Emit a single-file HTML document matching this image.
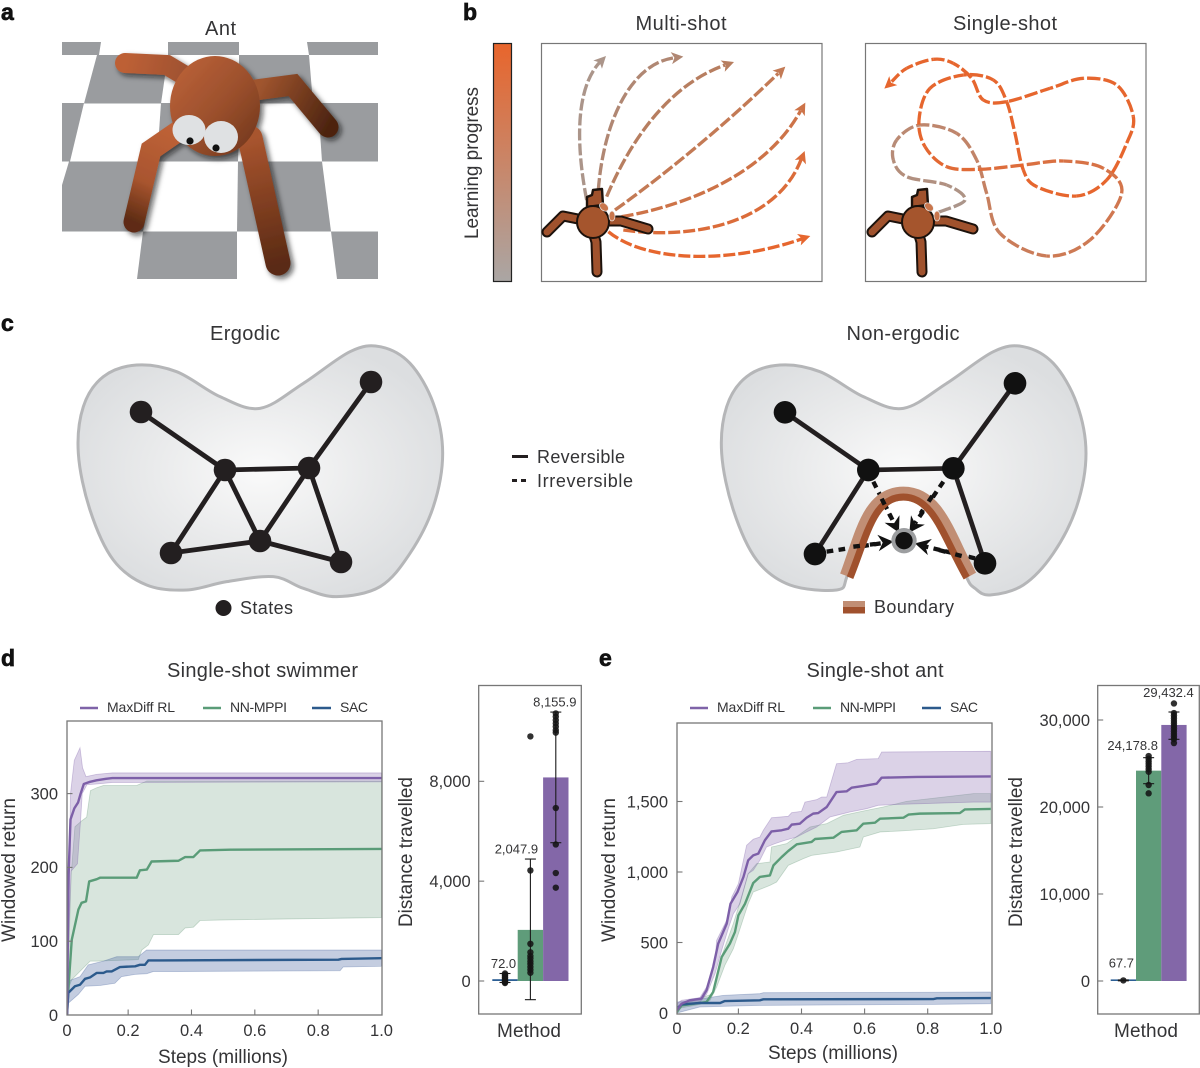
<!DOCTYPE html>
<html lang="en">
<head>
<meta charset="utf-8">
<title>MaxDiff RL figure</title>
<style>
html,body{margin:0;padding:0;background:#fff;}
svg{display:block;font-family:"Liberation Sans",sans-serif;}
text{fill:#343436;}
.pl{font-weight:700;font-size:23px;fill:#111;stroke:#111;stroke-width:.7px;}
.ti{font-size:20px;text-anchor:middle;}
.ax{font-size:19px;text-anchor:middle;}
.lg{font-size:18px;}
.sm{font-size:14px;}
.tk{font-size:16.5px;}
.vl{font-size:13px;text-anchor:middle;}
</style>
</head>
<body>
<svg id="fig" xmlns="http://www.w3.org/2000/svg" width="1200" height="1068" viewBox="0 0 1200 1068">
<defs>
<radialGradient id="blobFill" gradientUnits="objectBoundingBox" cx="50%" cy="50%" r="55%"><stop offset="0" stop-color="#fafafa"/><stop offset=".55" stop-color="#e9eaeb"/><stop offset="1" stop-color="#dcdee0"/></radialGradient>
<linearGradient id="cbar" x1="0" y1="0" x2="0" y2="1"><stop offset="0" stop-color="#e8652c"/><stop offset="1" stop-color="#aaa6a4"/></linearGradient>
<linearGradient id="antBody" x1="0" y1="0" x2="1" y2="1"><stop offset="0" stop-color="#c0643a"/><stop offset=".55" stop-color="#9a4f2c"/><stop offset="1" stop-color="#6b3319"/></linearGradient>
<linearGradient id="leg1" gradientUnits="userSpaceOnUse" x1="125" y1="64" x2="190" y2="80"><stop offset="0" stop-color="#bd6036"/><stop offset="1" stop-color="#9c5030"/></linearGradient>
<linearGradient id="leg2" gradientUnits="userSpaceOnUse" x1="258" y1="88" x2="328" y2="127"><stop offset="0" stop-color="#a0552f"/><stop offset="1" stop-color="#4d2410"/></linearGradient>
<linearGradient id="leg3" gradientUnits="userSpaceOnUse" x1="177" y1="128" x2="135" y2="222"><stop offset="0" stop-color="#bf6237"/><stop offset=".6" stop-color="#a9552f"/><stop offset="1" stop-color="#5e2c14"/></linearGradient>
<linearGradient id="leg4" gradientUnits="userSpaceOnUse" x1="247" y1="140" x2="277" y2="265"><stop offset="0" stop-color="#a8542e"/><stop offset="1" stop-color="#5a2a14"/></linearGradient>
<filter id="sh" x="-30%" y="-30%" width="170%" height="170%"><feDropShadow dx="3" dy="3" stdDeviation="2.6" flood-color="#111" flood-opacity=".65"/></filter>
<clipPath id="clipD"><rect x="67" y="721" width="315" height="294"/></clipPath>
<clipPath id="clipE"><rect x="677" y="723" width="315" height="291"/></clipPath>
<g id="miniAnt">
<path d="M-15,-3 L-30,-6 L-46,10 M17,-1 L28,-1 L55,7 M0,10 L3,20 L4,50" fill="none" stroke="#1c120c" stroke-width="11" stroke-linecap="round" stroke-linejoin="round"/>
<path d="M-15,-3 L-30,-6 L-46,10 M17,-1 L28,-1 L55,7 M0,10 L3,20 L4,50" fill="none" stroke="#a0522d" stroke-width="7" stroke-linecap="round" stroke-linejoin="round"/>
<path d="M-6,-15 L-6,-25 L-1,-27 L0,-32 L9,-33 L10,-17 Z" fill="#a0522d" stroke="#1c120c" stroke-width="2.4" stroke-linejoin="round"/>
<circle cx="0" cy="0" r="16" fill="#a5552d" stroke="#1c120c" stroke-width="2"/>
<ellipse cx="11" cy="-15" rx="5" ry="3.5" fill="#c9764d" stroke="#eee" stroke-width=".7" transform="rotate(40 11 -15)"/>
<ellipse cx="19" cy="-6" rx="3" ry="5" fill="#c9764d" stroke="#eee" stroke-width=".7"/>
</g>
</defs>

<!-- panel letters -->
<text class="pl" x="1" y="20">a</text>
<text class="pl" x="463" y="20">b</text>
<text class="pl" x="1" y="331">c</text>
<text class="pl" x="1" y="666">d</text>
<text class="pl" x="599" y="666">e</text>

<!-- panel a -->
<text class="ti" x="220.5" y="35" textLength="31">Ant</text>
<g fill="#9a9c9f">
<polygon points="62,42 101,42 99,55 62,55"/><polygon points="168,42 239,42 239,55 168,55"/><polygon points="307,42 378,42 378,55 309,55"/>
<polygon points="97,55 168,55 161,103.5 84,103.5"/><polygon points="239,55 309,55 313,103.5 239,103.5"/>
<polygon points="62,103 84,103 70,161.5 62,161.5"/><polygon points="161,103 240,103 238,161.5 157,161.5"/><polygon points="318,103 378,103 378,161.5 322,161.5"/>
<polygon points="69,161.5 157,161.5 143,231.5 62,231.5 62,185"/><polygon points="238,161.5 322,161.5 331,231.5 237,231.5"/>
<polygon points="143,231.5 237,231.5 237,279 137,279"/><polygon points="331,231.5 378,231.5 378,279 337,279"/>
</g>
<g fill="none" stroke-linecap="round">
<g filter="url(#sh)">
<path d="M125,63 L167,65 L192,80" stroke="url(#leg1)" stroke-width="20" stroke-linejoin="miter"/>
<path d="M255,90 L293,85 L328,127" stroke="url(#leg2)" stroke-width="21" stroke-linejoin="miter"/>
<path d="M180,130 L151,150 L134,222" stroke="url(#leg3)" stroke-width="21" stroke-linejoin="miter"/>
<path d="M250,138 L278,263" stroke="url(#leg4)" stroke-width="25"/>
<ellipse cx="215" cy="106" rx="45" ry="50" fill="url(#antBody)" stroke="none"/>
</g>
<ellipse cx="189" cy="130" rx="16.5" ry="15" fill="#dfe1e3" stroke="none"/>
<ellipse cx="221" cy="137" rx="17" ry="16" fill="#dfe1e3" stroke="none"/>
<circle cx="190" cy="141" r="3.6" fill="#111" stroke="none"/>
<circle cx="216" cy="148" r="3.6" fill="#111" stroke="none"/>
</g>

<!-- panel b -->
<rect x="493.5" y="43.5" width="18" height="238" fill="url(#cbar)" stroke="#222" stroke-width="1.2"/>
<text class="ax" transform="translate(478 163) rotate(-90)" textLength="152">Learning progress</text>
<text class="ti" x="681" y="30" textLength="91">Multi-shot</text>
<text class="ti" x="1005" y="30" textLength="104">Single-shot</text>
<rect x="541.5" y="43.5" width="280.5" height="238" fill="#fff" stroke="#777" stroke-width="1.2"/>
<rect x="865.5" y="43.5" width="280.5" height="238" fill="#fff" stroke="#777" stroke-width="1.2"/>
<g transform="translate(460 0) scale(.33333)" fill="none" stroke-width="10" stroke-dasharray="36 9">
<path stroke="#ab958a" d="M380,600 C345,420 350,260 420,186"/>
<path stroke="#b08773" d="M415,570 C430,370 510,190 645,173"/>
<path stroke="#b77e60" d="M440,590 C520,400 640,250 795,195"/>
<path stroke="#c37a55" d="M465,630 C620,520 800,370 955,220"/>
<path stroke="#cd7348" d="M485,650 C720,610 930,500 1022,332"/>
<path stroke="#db6c3a" d="M490,690 C700,720 950,670 1024,477"/>
<path stroke="#e6662e" d="M445,695 C560,790 820,790 1027,716"/>
<g stroke="none">
<polygon fill="#ab958a" points="0,0 -36,-18 -27,0 -36,18" transform="translate(438 168) rotate(-46)"/>
<polygon fill="#b08773" points="0,0 -36,-18 -27,0 -36,18" transform="translate(670 170) rotate(-7)"/>
<polygon fill="#b77e60" points="0,0 -36,-18 -27,0 -36,18" transform="translate(822 186) rotate(-20)"/>
<polygon fill="#c37a55" points="0,0 -36,-18 -27,0 -36,18" transform="translate(976 200) rotate(-44)"/>
<polygon fill="#cd7348" points="0,0 -36,-18 -27,0 -36,18" transform="translate(1036 308) rotate(-61)"/>
<polygon fill="#db6c3a" points="0,0 -36,-18 -27,0 -36,18" transform="translate(1034 453) rotate(-69)"/>
<polygon fill="#e6662e" points="0,0 -36,-18 -27,0 -36,18" transform="translate(1051 708) rotate(-18)"/>
</g>
</g>
<use href="#miniAnt" x="593" y="222"/>
<g id="singleShot" transform="translate(850 30) scale(.33333)" fill="none" stroke-width="10"></g>
<use href="#miniAnt" x="918" y="222"/>

<!-- panel c -->
<text class="ti" x="245" y="340" textLength="70">Ergodic</text>
<text class="ti" x="903" y="340" textLength="113">Non-ergodic</text>
<path id="blobA" fill="url(#blobFill)" stroke="#b5b6b8" stroke-width="3"/>
<path id="blobB" fill="url(#blobFill)" stroke="#b5b6b8" stroke-width="3"/>
<g stroke="#231f20" stroke-width="4.8" fill="#231f20">
<line x1="141" y1="412" x2="225" y2="470"/><line x1="371" y1="382" x2="309" y2="468"/><line x1="225" y1="470" x2="309" y2="468"/>
<line x1="225" y1="470" x2="171" y2="553"/><line x1="225" y1="470" x2="260" y2="541"/><line x1="309" y1="468" x2="260" y2="541"/>
<line x1="309" y1="468" x2="341" y2="562"/><line x1="171" y1="553" x2="260" y2="541"/><line x1="260" y1="541" x2="341" y2="562"/>
<g stroke="none">
<circle cx="141" cy="412" r="11.3"/><circle cx="371" cy="382" r="11.3"/><circle cx="225" cy="470" r="11.3"/><circle cx="309" cy="468" r="11.3"/><circle cx="171" cy="553" r="11.3"/><circle cx="260" cy="541" r="11.3"/><circle cx="341" cy="562" r="11.3"/>
</g>
</g>
<g transform="translate(700 340) scale(.33333)">
<g stroke="#231f20" stroke-width="14" fill="none">
<line x1="255" y1="217" x2="505" y2="390"/><line x1="945" y1="130" x2="760" y2="385"/><line x1="505" y1="390" x2="760" y2="385"/>
<line x1="505" y1="390" x2="345" y2="642"/><line x1="760" y1="385" x2="855" y2="670"/>
</g>
<g stroke="#111" stroke-width="13" stroke-dasharray="20 16" fill="none">
<line x1="520" y1="425" x2="585" y2="555"/><line x1="730" y1="425" x2="645" y2="550"/><line x1="380" y1="635" x2="555" y2="608"/><line x1="825" y1="655" x2="670" y2="618"/>
</g>
<path d="M440,708 C485,590 505,461 610,461 C715,461 745,590 810,708" fill="none" stroke="#c18e74" stroke-width="42"/>
<path d="M450,713 C500,590 520,471 610,471 C700,471 730,590 800,713" fill="none" stroke="#a0512d" stroke-width="21"/>
<g stroke="#111" stroke-width="13" stroke-dasharray="20 30" fill="none">
<line x1="545" y1="476" x2="572" y2="530"/><line x1="697" y1="468" x2="662" y2="520"/><line x1="460" y1="620" x2="525" y2="612"/><line x1="785" y1="648" x2="705" y2="627"/>
</g>
<g fill="#111">
<polygon points="0,0 -46,-25 -32,0 -46,25" transform="translate(597 578) rotate(63)"/>
<polygon points="0,0 -46,-25 -32,0 -46,25" transform="translate(628 578) rotate(124)"/>
<polygon points="0,0 -46,-25 -32,0 -46,25" transform="translate(580 605) rotate(-5)"/>
<polygon points="0,0 -46,-25 -32,0 -46,25" transform="translate(645 610) rotate(194)"/>
<circle cx="255" cy="217" r="34"/><circle cx="945" cy="130" r="34"/><circle cx="505" cy="390" r="34"/><circle cx="760" cy="385" r="34"/><circle cx="345" cy="642" r="34"/><circle cx="855" cy="670" r="34"/>
<circle cx="612" cy="602" r="38" fill="#9c9ea0"/>
<circle cx="612" cy="602" r="26"/>
</g>
</g>
<circle cx="223.5" cy="608" r="8" fill="#231f20"/>
<text class="lg" x="240" y="614" textLength="53">States</text>
<rect x="843" y="601" width="22" height="6" fill="#c18e74"/>
<rect x="843" y="607" width="22" height="6.5" fill="#a0512d"/>
<text class="lg" x="874" y="613" textLength="80">Boundary</text>
<line x1="512" y1="456.5" x2="528" y2="456.5" stroke="#231f20" stroke-width="3"/>
<text class="lg" x="537" y="463" textLength="88">Reversible</text>
<line x1="512" y1="480.5" x2="528" y2="480.5" stroke="#231f20" stroke-width="3" stroke-dasharray="5 4"/>
<text class="lg" x="537" y="487" textLength="96">Irreversible</text>

<!-- panel d/e static text -->
<text class="ti" x="262.5" y="677" textLength="191">Single-shot swimmer</text>
<text class="ti" x="875" y="677" textLength="137">Single-shot ant</text>
<text class="ax" transform="translate(15 870) rotate(-90)" textLength="144">Windowed return</text>
<text class="ax" transform="translate(615 870) rotate(-90)" textLength="144">Windowed return</text>
<text class="ax" x="223" y="1063" textLength="130">Steps (millions)</text>
<text class="ax" x="833" y="1059" textLength="130">Steps (millions)</text>
<text class="ax" transform="translate(412 852) rotate(-90)" textLength="150">Distance travelled</text>
<text class="ax" transform="translate(1022 852) rotate(-90)" textLength="150">Distance travelled</text>
<text class="ax" x="529" y="1037" textLength="64">Method</text>
<text class="ax" x="1146" y="1037" textLength="64">Method</text>

<g>
<line x1="80" y1="708" x2="98" y2="708" stroke="#7f63a8" stroke-width="2.5"/>
<text class="sm" x="107" y="712" textLength="68">MaxDiff RL</text>
<line x1="203" y1="708" x2="221" y2="708" stroke="#5a9c78" stroke-width="2.5"/>
<text class="sm" x="230" y="712" textLength="57">NN-MPPI</text>
<line x1="312" y1="708" x2="331" y2="708" stroke="#2c5a8c" stroke-width="2.5"/>
<text class="sm" x="340" y="712" textLength="28">SAC</text>
</g>
<g>
<line x1="690" y1="708" x2="708" y2="708" stroke="#7f63a8" stroke-width="2.5"/>
<text class="sm" x="717" y="712" textLength="68">MaxDiff RL</text>
<line x1="813" y1="708" x2="831" y2="708" stroke="#5a9c78" stroke-width="2.5"/>
<text class="sm" x="840" y="712" textLength="56">NN-MPPI</text>
<line x1="922" y1="708" x2="941" y2="708" stroke="#2c5a8c" stroke-width="2.5"/>
<text class="sm" x="950" y="712" textLength="28">SAC</text>
</g>

<g id="chartD"></g>
<g id="chartE"></g>
<g id="barD"></g>
<g id="barE"></g>
</svg>

<script>
// ---- Line chart data: steps (millions) and windowed return ----
const xTickValues = [0, 0.2, 0.4, 0.6, 0.8, 1.0];
const xTickLabels = ['0', '0.2', '0.4', '0.6', '0.8', '1.0'];
const swimmerYTicks = [0, 100, 200, 300];
const swimmerYLabels = ['0', '100', '200', '300'];
const antYTicks = [0, 500, 1000, 1500];
const antYLabels = ['0', '500', '1,000', '1,500'];

const swimMaxDiffMeanX = [.007,.012,.018,.03,.042,.05,.06,.08,.1,.13,.15,1];
const swimMaxDiffMeanY = [0,190,265,280,288,300,313,316,318,320,321,321];
const swimMaxDiffUpperX = [.007,.012,.018,.03,.048,.056,.067,.1,.15,1];
const swimMaxDiffUpperY = [0,120,300,345,362,335,323,326,328,328];
const swimMaxDiffLowerX = [.007,.012,.02,.04,.05,.055,.07,.1,.15,1];
const swimMaxDiffLowerY = [0,100,195,205,265,300,312,313,315,316];

const swimNNMeanX = [.007,.011,.022,.043,.053,.067,.077,.101,.111,.227,.237,.259,.274,.359,.38,.406,.427,.522,1];
const swimNNMeanY = [0,34,102,143,152,154,181,184,186,186,196,197,208,209,214,214,223,224,225];
const swimNNUpperX = [.007,.011,.02,.032,.053,.069,.081,.101,.122,.227,.259,1];
const swimNNUpperY = [0,60,190,255,263,268,304,308,311,311,317,317];
const swimNNLowerX = [.007,.015,.022,.08,.101,.232,.243,.264,.28,.359,.38,.406,.427,.522,1];
const swimNNLowerY = [0,40,48,73,73,75,88,95,109,109,118,119,128,129,132];

const swimSacMeanX = [.007,.011,.032,.048,.064,.08,.101,.122,.132,.148,.174,.222,.237,.253,.264,.3,.864,.874,1];
const swimSacMeanY = [0,30,39,41,49,51,57,57,59,59,65,66,68,68,74,74,75,76,77];
const swimSacUpperX = [.007,.011,.048,.074,.122,.164,.232,.258,1];
const swimSacUpperY = [0,46,52,68,73,79,79,88,88];
const swimSacLowerX = [.007,.011,.043,.064,.111,.158,.179,.222,.259,.28,.364,.869,.879,1];
const swimSacLowerY = [0,16,28,39,40,43,52,55,56,59,59,60,65,66];

const antMaxDiffMeanX = [.005,.02,.046,.083,.099,.12,.136,.163,.175,.197,.216,.231,.247,.263,.284,.305,.337,.358,.369,.395,.416,.437,.453,.48,.511,.543,.559,.596,.638,.654,.765,1];
const antMaxDiffMeanY = [19,66,90,102,161,326,492,634,775,858,965,1083,1118,1130,1225,1288,1296,1307,1336,1343,1385,1414,1418,1461,1567,1572,1598,1610,1626,1669,1674,1678];
const antMaxDiffUpperX = [.005,.02,.078,.099,.126,.131,.168,.179,.2,.226,.247,.268,.279,.305,.358,.369,.4,.411,.448,.464,.48,.511,.548,.575,.643,.654,1];
const antMaxDiffUpperY = [66,90,109,184,374,515,681,823,917,1189,1232,1248,1296,1385,1395,1421,1430,1496,1513,1532,1532,1768,1775,1799,1804,1851,1856];
const antMaxDiffLowerX = [.005,.02,.078,.099,.126,.147,.168,.184,.205,.231,.247,.268,.289,.316,.348,.385,.416,.448,.49,.511,.554,.606,.643,.712,.945,1];
const antMaxDiffLowerY = [10,54,78,132,279,444,598,704,775,988,1012,1083,1177,1201,1225,1248,1284,1319,1390,1402,1426,1449,1473,1480,1496,1496];

const antNNMeanX = [.005,.02,.078,.099,.12,.147,.173,.189,.2,.221,.247,.268,.3,.311,.337,.358,.385,.432,.443,.501,.527,.575,.596,.633,.649,.723,.739,.775,.902,.918,1];
const antNNMeanY = [7,54,71,78,149,397,492,574,693,775,922,965,976,1047,1106,1149,1196,1213,1234,1243,1284,1296,1343,1350,1378,1385,1407,1414,1418,1444,1447];
const antNNUpperX = [.005,.046,.12,.142,.184,.205,.231,.258,.3,.305,.353,.427,.48,.533,.606,.659,.733,.945,1];
const antNNUpperY = [45,78,137,374,634,787,988,1059,1071,1177,1201,1319,1343,1402,1437,1461,1501,1556,1556];
const antNNLowerX = [.005,.078,.11,.131,.157,.184,.2,.231,.247,.3,.321,.358,.406,.432,.511,.585,.596,.649,.712,.818,.913,1];
const antNNLowerY = [30,61,90,184,338,456,563,775,858,905,929,1047,1095,1118,1142,1177,1248,1284,1291,1307,1338,1343];

const antSacMeanX = [.005,.02,.078,.142,.157,.268,.279,.818,.829,1];
const antSacMeanY = [31,61,71,71,85,90,97,99,104,106];
const antSacUpperX = [.005,.036,.152,.268,.279,.818,1];
const antSacUpperY = [78,85,125,137,144,147,149];
const antSacLowerX = [.005,.078,.268,.818,1];
const antSacLowerY = [0,43,54,61,66];

// ---- Bar chart data: distance travelled ----
const barMethods = ['SAC', 'NN-MPPI', 'MaxDiff RL'];
const swimBarValues = [72.0, 2047.9, 8155.9];
const swimBarLabels = ['72.0', '2,047.9', '8,155.9'];
const swimErrHigh = [300, 4886, 10774];
const swimErrLow = [-60, -748, 5540];
const swimDotsSac = [300, 250, 200, 150, 100, 50, 0, -30, -60, -80];
const swimDotsNN = [9800, 4430, 1490, 1150, 1000, 900, 780, 680, 560, 450, 330];
const swimDotsMaxDiff = [10720, 10590, 10450, 10320, 10190, 10050, 9950, 6930, 5470, 4325, 3740];
const swimBarTicks = [0, 4000, 8000];
const swimBarTickLabels = ['0', '4,000', '8,000'];

const antBarValues = [67.7, 24178.8, 29432.4];
const antBarLabels = ['67.7', '24,178.8', '29,432.4'];
const antErrHigh = [120, 25670, 30920];
const antErrLow = [20, 22680, 27780];
const antLabelAnchor = [900, 25900, 32000];
const antDotsSac = [67.7];
const antDotsNN = [25860, 25550, 25250, 24950, 24650, 24350, 24050, 22530, 21570];
const antDotsMaxDiff = [31900, 30800, 30500, 30200, 29900, 29600, 29300, 29000, 28700, 28400, 28100, 27800, 27350];
const antBarTicks = [0, 10000, 20000, 30000];
const antBarTickLabels = ['0', '10,000', '20,000', '30,000'];

// ---- Illustration geometry ----
const blobAPts = [[600,205],[730,130],[870,35],[960,20],[1050,70],[1120,190],[1148,340],[1120,500],[1050,640],[960,740],[830,770],[730,745],[640,710],[500,725],[380,750],[260,735],[160,660],[90,510],[55,340],[70,200],[130,110],[230,75],[350,95],[480,170]];
const blobBPts = [[610,205],[740,130],[880,35],[970,20],[1060,70],[1130,190],[1158,340],[1130,500],[1060,640],[970,735],[870,765],[825,745],[800,712],[755,590],[690,490],[610,460],[530,490],[470,590],[440,712],[410,750],[270,735],[170,660],[100,510],[65,340],[80,200],[140,110],[240,75],[360,95],[490,170]];
const singleShotPts = [[265,547],[345,510],[290,465],[170,440],[130,390],[140,330],[210,285],[320,310],[380,390],[410,490],[450,610],[590,678],[720,630],[815,490],[760,415],[640,393],[520,405],[390,418],[290,410],[225,350],[207,270],[240,175],[340,135],[430,150],[470,215],[495,310],[520,420],[560,470],[680,498],[770,450],[830,340],[850,260],[800,165],[700,145],[600,175],[470,215],[400,210],[365,145],[310,100],[250,88],[170,115],[125,155]];

const NS = 'http://www.w3.org/2000/svg';
function make(tag, parent, props) {
  const el = document.createElementNS(NS, tag);
  for (const k in props) el.setAttribute(k, props[k]);
  parent.appendChild(el);
  return el;
}
function segment(p0, p1, p2, p3) {
  const c1x = p1[0] + (p2[0] - p0[0]) / 6, c1y = p1[1] + (p2[1] - p0[1]) / 6;
  const c2x = p2[0] - (p3[0] - p1[0]) / 6, c2y = p2[1] - (p3[1] - p1[1]) / 6;
  return 'C' + c1x + ',' + c1y + ' ' + c2x + ',' + c2y + ' ' + p2[0] + ',' + p2[1];
}
function closedBlob(pts, ox, oy) {
  const q = pts.map(p => [p[0] / 3 + ox, p[1] / 3 + oy]);
  const n = q.length;
  let d = 'M' + q[0][0] + ',' + q[0][1];
  for (let i = 0; i < n; i++) d += segment(q[(i - 1 + n) % n], q[i], q[(i + 1) % n], q[(i + 2) % n]);
  return d + 'Z';
}
document.getElementById('blobA').setAttribute('d', closedBlob(blobAPts, 60, 340));
document.getElementById('blobB').setAttribute('d', closedBlob(blobBPts, 700, 340));

// single-shot trajectory, colour progresses from grey-brown to orange; dash phase continues across segments
(function () {
  const g = document.getElementById('singleShot');
  const n = singleShotPts.length;
  const from = [171, 149, 138], to = [230, 102, 46];
  let travelled = 0;
  for (let i = 0; i < n - 1; i++) {
    const t = Math.min(1, i / (n * 0.45));
    const c = from.map((v, k) => Math.round(v + (to[k] - v) * t));
    const p0 = singleShotPts[Math.max(0, i - 1)], p1 = singleShotPts[i], p2 = singleShotPts[i + 1], p3 = singleShotPts[Math.min(n - 1, i + 2)];
    const seg = make('path', g, { d: 'M' + p1[0] + ',' + p1[1] + segment(p0, p1, p2, p3), stroke: 'rgb(' + c.join(',') + ')', 'stroke-dasharray': '40 9', 'stroke-dashoffset': travelled });
    
    
    travelled += seg.getTotalLength();
  }
  const head = make('polygon', g, { points: '0,0 -36,-18 -27,0 -36,18', fill: '#e6662e', stroke: 'none', transform: 'translate(103 176) rotate(138)' });
  
  
})();

// ---- Line charts ----
function drawFrame(g, box) {
  const frame = make('rect', g, { x: box.x, y: box.y, width: box.w, height: box.h, fill: 'none', stroke: '#777', 'stroke-width': 1.3 });
  
  
}
function drawYTicks(g, box, ticks, labels, yScale, right) {
  ticks.forEach((v, i) => {
    const y = yScale(v);
    if (i > 0 || v !== 0 || box.tickZero) {
      const t = make('line', g, { x1: box.x, x2: box.x + 5.5, y1: y, y2: y, stroke: '#777', 'stroke-width': 1.1 });
      
      
    }
    const lab = make('text', g, { x: right, y: y + 5.8, 'text-anchor': 'end', class: 'tk' });
    lab.textContent = labels[i];
    
    
  });
}
function drawLineChart(g, box, xScale, yScale, cfg) {
  const plot = make('g', g, { 'clip-path': 'url(#' + cfg.clip + ')' });
  
  
  cfg.series.forEach(s => {
    let d = s.upX.map((x, i) => (i ? 'L' : 'M') + xScale(x) + ',' + yScale(s.upY[i])).join('');
    for (let i = s.loX.length - 1; i >= 0; i--) d += 'L' + xScale(s.loX[i]) + ',' + yScale(s.loY[i]);
    const band = make('path', plot, { d: d + 'Z', fill: s.band, 'fill-opacity': s.bandOp, stroke: s.band, 'stroke-opacity': .35, 'stroke-width': .8 });
    
    
  });
  cfg.series.forEach(s => {
    const d = s.mX.map((x, i) => (i ? 'L' : 'M') + xScale(x) + ',' + yScale(s.mY[i])).join('');
    const line = make('path', plot, { d: d, fill: 'none', stroke: s.color, 'stroke-width': 2.4, 'stroke-linejoin': 'round' });
    
    
  });
  drawFrame(g, box);
  xTickValues.forEach((v, i) => {
    const x = xScale(v);
    if (v > 0 && v < 1) {
      const t = make('line', g, { x1: x, x2: x, y1: box.y + box.h, y2: box.y + box.h - 5.5, stroke: '#777', 'stroke-width': 1.1 });
      
      
    }
    const lab = make('text', g, { x: Math.max(x, box.x), y: cfg.xLabelY, 'text-anchor': 'middle', class: 'tk' });
    lab.textContent = xTickLabels[i];
    
    
  });
  drawYTicks(g, box, cfg.yTicks, cfg.yLabels, yScale, cfg.yRight);
}
const purple = '#7d5fa8', green = '#5a9c78', blue = '#2c5a8c';

const dX = v => 64.8 + 316.7 * v;
const dY = v => 1015 - 0.738 * v;
drawLineChart(document.getElementById('chartD'), { x: 67, y: 721, w: 315, h: 294 }, dX, dY, {
  clip: 'clipD', xLabelY: 1036, yTicks: swimmerYTicks, yLabels: swimmerYLabels, yRight: 58,
  series: [
    { name: 'nn-mppi', color: green, band: '#6a9a7c', bandOp: .26, mX: swimNNMeanX, mY: swimNNMeanY, upX: swimNNUpperX, upY: swimNNUpperY, loX: swimNNLowerX, loY: swimNNLowerY },
    { name: 'sac', color: blue, band: '#47639f', bandOp: .32, mX: swimSacMeanX, mY: swimSacMeanY, upX: swimSacUpperX, upY: swimSacUpperY, loX: swimSacLowerX, loY: swimSacLowerY },
    { name: 'maxdiff', color: purple, band: '#7d5fa8', bandOp: .28, mX: swimMaxDiffMeanX, mY: swimMaxDiffMeanY, upX: swimMaxDiffUpperX, upY: swimMaxDiffUpperY, loX: swimMaxDiffLowerX, loY: swimMaxDiffLowerY }
  ]
});

const eX = v => 675.3 + 315.5 * v;
const eY = v => 1013 - 0.141 * v;
drawLineChart(document.getElementById('chartE'), { x: 677, y: 723, w: 315, h: 291 }, eX, eY, {
  clip: 'clipE', xLabelY: 1034, yTicks: antYTicks, yLabels: antYLabels, yRight: 668,
  series: [
    { name: 'nn-mppi', color: green, band: '#6a9a7c', bandOp: .26, mX: antNNMeanX, mY: antNNMeanY, upX: antNNUpperX, upY: antNNUpperY, loX: antNNLowerX, loY: antNNLowerY },
    { name: 'sac', color: blue, band: '#47639f', bandOp: .32, mX: antSacMeanX, mY: antSacMeanY, upX: antSacUpperX, upY: antSacUpperY, loX: antSacLowerX, loY: antSacLowerY },
    { name: 'maxdiff', color: purple, band: '#7d5fa8', bandOp: .28, mX: antMaxDiffMeanX, mY: antMaxDiffMeanY, upX: antMaxDiffUpperX, upY: antMaxDiffUpperY, loX: antMaxDiffLowerX, loY: antMaxDiffLowerY }
  ]
});

// ---- Bar charts ----
function drawBars(g, box, yScale, cfg) {
  const colors = ['#2c5f95', '#5f9c7a', '#8367a8'];
  drawFrame(g, box);
  barMethods.forEach((m, i) => {
    const left = cfg.firstBar + i * cfg.barW;
    const cx = left + cfg.barW / 2;
    const top = yScale(cfg.values[i]);
    const h = Math.max(yScale(0) - top, 1.6);
    const bar = make('rect', g, { x: left, y: yScale(0) - h, width: cfg.barW, height: h, fill: colors[i] });
    
    
    const errLine = make('line', g, { x1: cx, x2: cx, y1: yScale(cfg.errHigh[i]), y2: yScale(cfg.errLow[i]), stroke: '#1a1a1a', 'stroke-width': 1.1 });
    
    
    [cfg.errHigh[i], cfg.errLow[i]].forEach(v => {
      const cap = make('line', g, { x1: cx - 5.5, x2: cx + 5.5, y1: yScale(v), y2: yScale(v), stroke: '#1a1a1a', 'stroke-width': 1.1 });
      
      
    });
    cfg.dots[i].forEach(v => {
      const dot = make('circle', g, { cx: cx, cy: yScale(v), r: 3.2, fill: '#141414', 'fill-opacity': .88 });
      
      
    });
    const lab = make('text', g, { x: cx + cfg.labelShift[i], y: yScale(cfg.anchor[i]) - 5.5, class: 'vl' });
    lab.textContent = cfg.labels[i];
    
    
  });
  drawYTicks(g, Object.assign({ tickZero: true }, box), cfg.ticks, cfg.tickLabels, yScale, cfg.right);
}
drawBars(document.getElementById('barD'), { x: 478.7, y: 685.5, w: 102.6, h: 328.5 }, v => 981 - 0.02496 * v, {
  firstBar: 492.3, barW: 25.4, values: swimBarValues, labels: swimBarLabels, errHigh: swimErrHigh, errLow: swimErrLow,
  anchor: swimErrHigh, labelShift: [-1.5, -14, -1], dots: [swimDotsSac, swimDotsNN, swimDotsMaxDiff],
  ticks: swimBarTicks, tickLabels: swimBarTickLabels, right: 470.7
});
drawBars(document.getElementById('barE'), { x: 1097.7, y: 685.5, w: 101.6, h: 328.5 }, v => 981 - 0.0087 * v, {
  firstBar: 1110.7, barW: 25.3, values: antBarValues, labels: antBarLabels, errHigh: antErrHigh, errLow: antErrLow,
  anchor: antLabelAnchor, labelShift: [-2, -16, -5.5], dots: [antDotsSac, antDotsNN, antDotsMaxDiff],
  ticks: antBarTicks, tickLabels: antBarTickLabels, right: 1090
});
</script>
</body>
</html>
